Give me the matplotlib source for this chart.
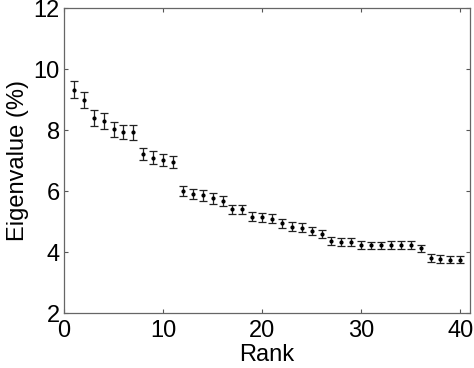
import matplotlib
matplotlib.use('Agg')
import matplotlib.pyplot as plt

# rank of eigenvalue and its share (%) with error
rank = list(range(1, 41))
eigen = [9.33, 8.98, 8.40, 8.30, 8.03, 7.94, 7.93, 7.23, 7.10, 7.02,
         6.96, 6.00, 5.91, 5.86, 5.76, 5.67, 5.41, 5.40, 5.16, 5.14,
         5.10, 4.95, 4.83, 4.80, 4.69, 4.58, 4.38, 4.33, 4.33, 4.24,
         4.22, 4.22, 4.23, 4.23, 4.23, 4.13, 3.81, 3.78, 3.75, 3.75]
err = [0.28, 0.27, 0.25, 0.25, 0.24, 0.24, 0.24, 0.20, 0.20, 0.20,
       0.20, 0.17, 0.17, 0.17, 0.17, 0.17, 0.15, 0.15, 0.15, 0.15,
       0.15, 0.15, 0.15, 0.15, 0.13, 0.13, 0.13, 0.13, 0.13, 0.13,
       0.12, 0.12, 0.12, 0.12, 0.12, 0.12, 0.12, 0.12, 0.12, 0.12]

plt.rcParams['font.family'] = ['Liberation Sans', 'DejaVu Sans']

fig = plt.figure(figsize=(4.74, 3.68), dpi=100)
ax = fig.add_axes([0.135, 0.149, 0.857, 0.829])

ax.errorbar(rank, eigen, yerr=err, fmt='o', color='black', markersize=2.0,
            ecolor='#222222', elinewidth=0.9, capsize=3.2, capthick=0.9)

ax.set_xlim(0, 41)
ax.set_ylim(2, 12)
ax.set_xticks([0, 10, 20, 30, 40])
ax.set_yticks([2, 4, 6, 8, 10, 12])
ax.tick_params(direction='in', length=3, width=0.8, color='#555555',
               labelsize=17, top=True, right=True)
ax.tick_params(axis='x', pad=5)
ax.tick_params(axis='y', pad=3)
for s in ax.spines.values():
    s.set_color('#666666')
    s.set_linewidth(0.9)

ax.set_xlabel('Rank', fontsize=17, labelpad=1)
ax.set_ylabel('Eigenvalue (%)', fontsize=17, labelpad=3)

fig.savefig('out.png', dpi=100)
